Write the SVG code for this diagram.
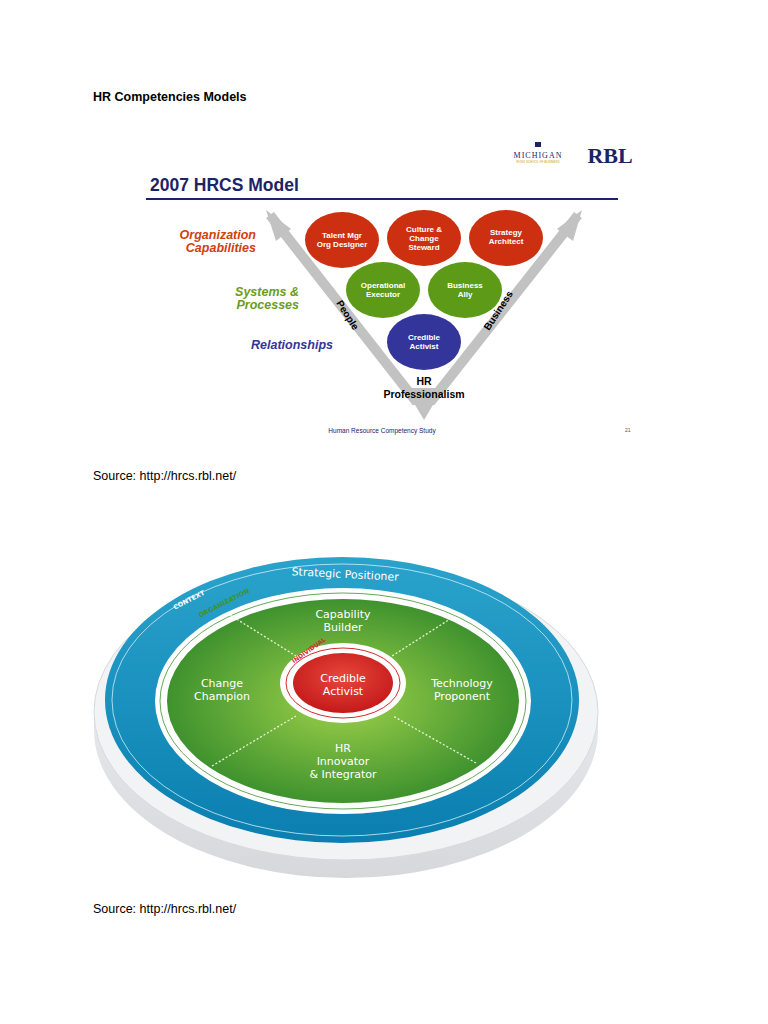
<svg xmlns="http://www.w3.org/2000/svg" width="768" height="1024" viewBox="0 0 768 1024">
<defs>
<style>
.pg{font-family:"Liberation Sans",Arial,sans-serif;font-size:12.5px;fill:#000}
.cw{font-family:"Liberation Sans",Arial,sans-serif;font-weight:bold;font-size:8px;fill:#fff;text-anchor:middle}
.lab{font-family:"Liberation Sans",Arial,sans-serif;font-weight:bold;font-style:italic;font-size:12.5px}
.dw{font-family:"DejaVu Sans",sans-serif;fill:#fff;text-anchor:middle;font-size:11px}
.dot{stroke:#e8f5d8;stroke-width:1.3;stroke-dasharray:2 2}
</style>
<radialGradient id="gg" cx="0.5" cy="0.5" r="0.5"><stop offset="0" stop-color="#9fd24a"/><stop offset="1" stop-color="#3f922e"/></radialGradient>
<radialGradient id="rg" cx="0.5" cy="0.4" r="0.6"><stop offset="0" stop-color="#e8473c"/><stop offset="1" stop-color="#c41a1a"/></radialGradient>
<linearGradient id="bg" x1="0" y1="0" x2="0" y2="1"><stop offset="0" stop-color="#2aa3cc"/><stop offset="1" stop-color="#0a7fb0"/></linearGradient>
<linearGradient id="sg" x1="0" y1="0" x2="0" y2="1"><stop offset="0" stop-color="#f4f5f7"/><stop offset="1" stop-color="#d6d8dc"/></linearGradient>
</defs>
<text class="pg" x="93" y="101" font-weight="bold">HR Competencies Models</text>
<g id="top">
<text x="150" y="191" font-family="Liberation Sans,Arial,sans-serif" font-weight="bold" font-size="17.5" fill="#1b2466">2007 HRCS Model</text>
<line x1="146" y1="199" x2="618" y2="199" stroke="#1b2466" stroke-width="2"/>
<text x="538" y="158" font-family="Liberation Serif,serif" font-size="8" fill="#1b2466" text-anchor="middle" letter-spacing="1">MICHIGAN</text>
<rect x="535" y="142" width="6" height="5" fill="#1b2466"/>
<text x="538" y="163" font-family="Liberation Sans,sans-serif" font-size="3" fill="#c9a000" text-anchor="middle">ROSS SCHOOL OF BUSINESS</text>
<text x="610" y="163" font-family="Liberation Serif,serif" font-weight="bold" font-size="22" fill="#1b2466" text-anchor="middle">RBL</text>
</g>
<g id="connectors">
<polyline points="270,215 415,400 432,400 578,215" fill="none" stroke="#c2c2c2" stroke-width="10"/>
<path d="M424,420 L405,388 L443,388 z" fill="#c2c2c2"/>
<path d="M266,210 L291,229 L276,241 z" fill="#c2c2c2"/>
<path d="M582,210 L573,241 L557,229 z" fill="#c2c2c2"/>
<text transform="translate(336,303) rotate(58)" font-family="Liberation Sans,sans-serif" font-weight="bold" font-size="10">People</text>
<text transform="translate(489,331) rotate(-57)" font-family="Liberation Sans,sans-serif" font-weight="bold" font-size="10">Business</text>
</g>
<g id="n1"><ellipse cx="342" cy="240" rx="37" ry="28" fill="#cc3010"/><text class="cw" x="342" y="238">Talent Mgr</text><text class="cw" x="342" y="247">Org Designer</text></g>
<g id="n2"><ellipse cx="424" cy="238" rx="37" ry="28" fill="#cc3010"/><text class="cw" x="424" y="232">Culture &amp;</text><text class="cw" x="424" y="241">Change</text><text class="cw" x="424" y="250">Steward</text></g>
<g id="n3"><ellipse cx="506" cy="238" rx="37" ry="28" fill="#cc3010"/><text class="cw" x="506" y="235">Strategy</text><text class="cw" x="506" y="244">Architect</text></g>
<g id="n4"><ellipse cx="383" cy="290" rx="37" ry="28" fill="#5c9a18"/><text class="cw" x="383" y="288">Operational</text><text class="cw" x="383" y="297">Executor</text></g>
<g id="n5"><ellipse cx="465" cy="290" rx="37" ry="28" fill="#5c9a18"/><text class="cw" x="465" y="288">Business</text><text class="cw" x="465" y="297">Ally</text></g>
<g id="n6"><ellipse cx="424" cy="342" rx="37" ry="28" fill="#34359a"/><text class="cw" x="424" y="340">Credible</text><text class="cw" x="424" y="349">Activist</text></g>
<g id="labels">
<text class="lab" fill="#d04010" text-anchor="end" x="256" y="239">Organization</text>
<text class="lab" fill="#d04010" text-anchor="end" x="256" y="252">Capabilities</text>
<text class="lab" fill="#6a9e1a" text-anchor="end" x="299" y="296">Systems &amp;</text>
<text class="lab" fill="#6a9e1a" text-anchor="end" x="299" y="309">Processes</text>
<text class="lab" fill="#34359a" text-anchor="end" x="333" y="349" font-size="11.5">Relationships</text>
<text x="424" y="385" text-anchor="middle" font-family="Liberation Sans,sans-serif" font-weight="bold" font-size="10.5">HR</text>
<text x="424" y="398" text-anchor="middle" font-family="Liberation Sans,sans-serif" font-weight="bold" font-size="10.5">Professionalism</text>
<text x="382" y="433" text-anchor="middle" font-family="Liberation Sans,sans-serif" font-size="6.5" fill="#1b2466">Human Resource Competency Study</text>
<text x="625" y="432" font-family="Liberation Sans,sans-serif" font-size="5" fill="#555">21</text>
</g>
<text class="pg" x="93" y="480">Source: http://hrcs.rbl.net/</text>
<g id="disk">
<path d="M94,712 A252,148 0 0 1 598,712 L598,730 A252,148 0 0 1 94,730 z" fill="url(#sg)"/>
<ellipse cx="346" cy="712" rx="252" ry="148" fill="#f2f3f5" stroke="#d8dadd"/>
<ellipse cx="342" cy="700" rx="237" ry="143" fill="url(#bg)"/>
<ellipse cx="342" cy="700" rx="230" ry="136" fill="none" stroke="#cfeef8" stroke-width="0.8"/>
<ellipse cx="343" cy="701" rx="188" ry="113" fill="#fff"/>
<ellipse cx="343" cy="701" rx="183" ry="108" fill="none" stroke="#3f922e" stroke-width="0.8"/>
<ellipse cx="343" cy="701" rx="176" ry="102" fill="url(#gg)"/>
<line class="dot" x1="230" y1="615" x2="296" y2="656"/>
<line class="dot" x1="458" y1="614" x2="392" y2="656"/>
<line class="dot" x1="212" y1="766" x2="296" y2="716"/>
<line class="dot" x1="476" y1="763" x2="393" y2="716"/>
<ellipse cx="343" cy="683" rx="63" ry="40" fill="#fff"/>
<ellipse cx="343" cy="683" rx="57" ry="35" fill="none" stroke="#d52a2a" stroke-width="1"/>
<ellipse cx="343" cy="683" rx="50" ry="30" fill="url(#rg)"/>
<text class="dw" x="343" y="682">Credible</text><text class="dw" x="343" y="695">Activist</text>
<text class="dw" x="343" y="618">Capability</text><text class="dw" x="343" y="631">Builder</text>
<text class="dw" x="222" y="687">Change</text><text class="dw" x="222" y="700">Champion</text>
<text class="dw" x="462" y="687">Technology</text><text class="dw" x="462" y="700">Proponent</text>
<text class="dw" x="343" y="752">HR</text><text class="dw" x="343" y="765">Innovator</text><text class="dw" x="343" y="778">&amp; Integrator</text>
<text class="dw" x="345" y="578" font-size="11" transform="rotate(3 345 578)">Strategic Positioner</text>
<text transform="translate(190,602) rotate(-27)" text-anchor="middle" font-family="DejaVu Sans,sans-serif" font-weight="bold" font-size="6.5" fill="#fff">CONTEXT</text>
<text transform="translate(225,605) rotate(-27)" text-anchor="middle" font-family="DejaVu Sans,sans-serif" font-weight="bold" font-size="6.5" fill="#3f922e">ORGANIZATION</text>
<text transform="translate(310,652) rotate(-35)" text-anchor="middle" font-family="DejaVu Sans,sans-serif" font-weight="bold" font-size="6" fill="#d52a2a">INDIVIDUAL</text>
</g>
<text class="pg" x="93" y="913">Source: http://hrcs.rbl.net/</text>
</svg>
